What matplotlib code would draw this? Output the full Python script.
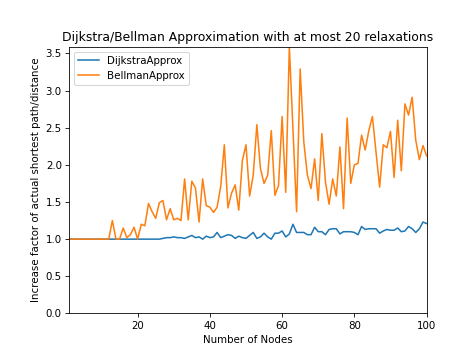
import matplotlib
matplotlib.use("Agg")
import matplotlib.pyplot as plt
import numpy as np

nodes = np.arange(1, 101)

dijkstra = [1.0] * 26 + [
    1.01, 1.02, 1.02, 1.03, 1.02, 1.02, 1.01, 1.03, 1.05, 1.02,
    1.03, 1.00, 1.04, 1.02, 1.03, 1.09, 1.02, 1.04, 1.06, 1.05,
    1.01, 1.04, 1.02, 1.01, 1.05, 1.09, 1.01, 1.03, 1.08, 1.03,
    1.00, 1.08, 1.08, 1.11, 1.03, 1.07, 1.20, 1.09, 1.09, 1.09,
    1.06, 1.06, 1.16, 1.10, 1.10, 1.06, 1.13, 1.14, 1.14, 1.07,
    1.10, 1.10, 1.10, 1.09, 1.06, 1.17, 1.13, 1.14, 1.14, 1.14,
    1.08, 1.11, 1.13, 1.12, 1.12, 1.15, 1.10, 1.11, 1.17, 1.14,
    1.09, 1.14, 1.23, 1.21,
]

bellman = [1.0] * 12 + [
    1.25, 1.00, 1.00, 1.15, 1.02, 1.06, 1.16, 1.00, 1.20, 1.18,
    1.48, 1.37, 1.28, 1.49, 1.52, 1.26, 1.41, 1.26, 1.28, 1.25,
    1.81, 1.26, 1.78, 1.69, 1.23, 1.81, 1.45, 1.43, 1.36, 1.43,
    1.71, 2.27, 1.42, 1.62, 1.73, 1.39, 2.06, 2.27, 1.58, 1.86,
    2.54, 1.95, 1.75, 1.86, 2.46, 1.59, 1.72, 2.65, 1.63, 3.59,
    2.48, 1.37, 3.29, 2.31, 1.86, 1.68, 2.08, 1.52, 2.42, 1.77,
    1.47, 1.81, 1.58, 2.24, 1.41, 2.63, 1.75, 2.00, 2.02, 2.40,
    2.20, 2.46, 2.65, 2.17, 1.70, 2.27, 2.23, 2.45, 1.83, 2.60,
    1.92, 2.82, 2.67, 2.91, 2.33, 2.07, 2.26, 2.12,
]

fig, ax = plt.subplots(figsize=(474 / 74, 351 / 74), dpi=74)
fig.subplots_adjust(left=0.1456, right=0.900, bottom=0.107, top=0.867)

ax.plot(nodes, dijkstra, label="DijkstraApprox")
ax.plot(nodes, bellman, label="BellmanApprox")

ax.set_xlim(1, 100)
ax.set_ylim(0, max(bellman))
ax.set_xlabel("Number of Nodes")
ax.set_ylabel("Increase factor of actual shortest path/distance")
ax.set_title("Dijkstra/Bellman Approximation with at most 20 relaxations")
ax.legend(loc="upper left")

plt.savefig("out.png", dpi=74)
